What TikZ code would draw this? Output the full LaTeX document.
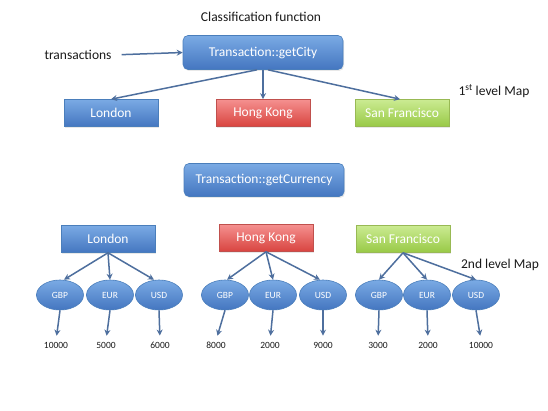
\documentclass[tikz,border=0pt]{standalone}
\usepackage{fontspec}
\setmainfont{Carlito}
\usetikzlibrary{shapes.geometric,arrows.meta,shadows}
\definecolor{arrowc}{HTML}{4E6F9E}
\definecolor{bluetop}{HTML}{7AAAE4}
\definecolor{bluebot}{HTML}{4476C0}
\definecolor{blueedge}{HTML}{4A7EBB}
\definecolor{redtop}{HTML}{F59090}
\definecolor{redbot}{HTML}{D8443F}
\definecolor{rededge}{HTML}{C0504D}
\definecolor{greentop}{HTML}{CBEB92}
\definecolor{greenbot}{HTML}{98C946}
\definecolor{greenedge}{HTML}{98B954}
\definecolor{textc}{HTML}{1A1A1A}
\tikzset{
  boxbase/.style={draw, line width=0.6pt, inner sep=0pt, text=white,
    font=\fontsize{13.5}{15}\selectfont,
    drop shadow={opacity=0.18, shadow xshift=1pt, shadow yshift=-1.5pt}},
  bluebox/.style={boxbase, draw=blueedge, top color=bluetop, bottom color=bluebot},
  redbox/.style={boxbase, draw=rededge, top color=redtop, bottom color=redbot},
  greenbox/.style={boxbase, draw=greenedge, top color=greentop, bottom color=greenbot},
  funcbox/.style={bluebox, rounded corners=5pt, minimum width=160pt, minimum height=34pt},
  citybox/.style={minimum width=94pt, minimum height=27pt},
  curr/.style={ellipse, draw=blueedge, line width=0.6pt, top color=bluetop, bottom color=bluebot,
    minimum width=47pt, minimum height=30pt, inner sep=0pt, text=white,
    font=\fontsize{9.5}{10}\selectfont},
  val/.style={inner sep=1pt, text=textc, font=\fontsize{9.5}{11}\selectfont},
  lbl/.style={inner sep=0pt, text=textc, font=\fontsize{13.5}{15}\selectfont},
  arr/.style={draw=arrowc, line width=1.5pt, -{Stealth[length=6pt,width=6pt]}},
}
\begin{document}
\begin{tikzpicture}[x=1pt,y=-1pt]
\useasboundingbox[fill=white] (0,0) rectangle (548,411);
\node[lbl] (title) at (261,17) {Classification function};
\node[funcbox] (gc) at (263,52.5) {Transaction::getCity};
\node[lbl] (trans) at (78,55) {transactions};
\node[bluebox, citybox] (L1) at (111,113) {London};
\node[redbox, citybox] (H1) at (263,113) {Hong Kong};
\node[greenbox, citybox] (S1) at (402,113) {San Francisco};
\node[lbl] (lvl1) at (494,91) {1\textsuperscript{st} level Map};
\draw[arr, shorten <=10pt] (trans.east) -- (gc.west);
\draw[arr] ([xshift=-6pt]gc.south) -- (L1.north);
\draw[arr] (gc.south) -- (H1.north);
\draw[arr] ([xshift=5pt]gc.south) -- ([xshift=-2pt]S1.north);

\node[funcbox, minimum height=33pt] (gcur) at (264,180) {Transaction::getCurrency};
\node[bluebox, citybox] (L2) at (108,239) {London};
\node[redbox, citybox] (H2) at (266,238) {Hong Kong};
\node[greenbox, citybox] (S2) at (403,239) {San Francisco};
\node[lbl] (lvl2) at (500,265) {2nd level Map};

\node[curr] (lg) at (60,295) {GBP};
\node[curr] (le) at (110,295) {EUR};
\node[curr] (lu) at (159,295) {USD};
\node[curr] (hg) at (225,295) {GBP};
\node[curr] (he) at (273,295) {EUR};
\node[curr] (hu) at (323,295) {USD};
\node[curr] (sg) at (379,295) {GBP};
\node[curr] (se) at (427,295) {EUR};
\node[curr] (su) at (476,295) {USD};

\draw[arr] (L2.south) -- ([xshift=4pt]lg.north);
\draw[arr] (L2.south) -- (le.north);
\draw[arr] (L2.south) -- ([xshift=-5pt]lu.north);
\draw[arr] (H2.south) -- ([xshift=2pt]hg.north);
\draw[arr] (H2.south) -- (he.north);
\draw[arr] (H2.south) -- ([xshift=-3pt]hu.north);
\draw[arr] (S2.south) -- (sg.north);
\draw[arr] (S2.south) -- (se.north);
\draw[arr] (S2.south) -- (su.north);

\node[val] (v1) at (56,345) {10000};
\node[val] (v2) at (106,345) {5000};
\node[val] (v3) at (160,345) {6000};
\node[val] (v4) at (216,345) {8000};
\node[val] (v5) at (270,345) {2000};
\node[val] (v6) at (323,345) {9000};
\node[val] (v7) at (378,345) {3000};
\node[val] (v8) at (428,345) {2000};
\node[val] (v9) at (481,345) {10000};

\foreach \e/\v in {lg/v1,le/v2,lu/v3,hg/v4,he/v5,hu/v6,sg/v7,se/v8,su/v9}
  \draw[arr, shorten >=5pt] (\e.south) -- (\v.north);
\end{tikzpicture}
\end{document}
